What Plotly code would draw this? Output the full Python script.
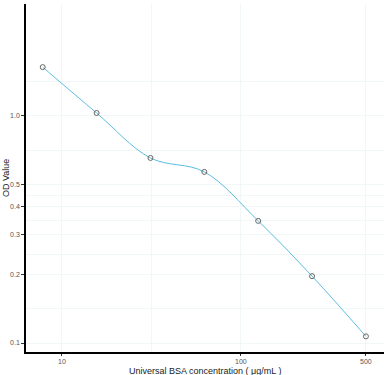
import plotly.graph_objects as go
import numpy as np

conc = [7.8125, 15.625, 31.25, 62.5, 125, 250, 500]
od = [1.64, 1.03, 0.653, 0.567, 0.345, 0.197, 0.107]

x_ticks = [10, 100, 500]
x_tick_text = ["10", "100", "500"]
y_ticks = [0.1, 0.2, 0.3, 0.4, 0.5, 1.0]
y_tick_text = ["0.1", "0.2", "0.3", "0.4", "0.5", "1.0"]

x_title = "Universal BSA concentration ( μg/mL )"
y_title = "OD Value"

fig = go.Figure()
fig.add_trace(go.Scatter(
    x=conc, y=od, mode="lines",
    line=dict(color="#5bbde0", width=1, shape="spline", smoothing=1.0),
    hoverinfo="skip", showlegend=False))
fig.add_trace(go.Scatter(
    x=conc, y=od, mode="markers",
    marker=dict(symbol="circle-open", size=5, color="#666666", line=dict(width=1)),
    showlegend=False))

grid_col = "#f1f6f6"
fig.update_layout(
    width=386, height=375,
    margin=dict(l=26, r=2, t=4, b=23),
    paper_bgcolor="white", plot_bgcolor="white",
    font=dict(family="Liberation Sans, Arial, sans-serif", color="#4d4d4d", size=7),
    xaxis=dict(
        type="log", range=[np.log10(6.3), np.log10(631)],
        tickvals=x_ticks, ticktext=x_tick_text,
        ticks="outside", ticklen=2, tickcolor="#333333", tickwidth=1,
        showline=True, linecolor="black", linewidth=1.6,
        showgrid=True, gridcolor=grid_col, gridwidth=1,
        minor=dict(tickvals=[31.6], showgrid=True, gridcolor=grid_col, ticks=""),
        zeroline=False, automargin=False,
        tickfont=dict(size=7, color="#555555"),
    ),
    yaxis=dict(
        type="log", range=[np.log10(0.0913), np.log10(3.11)],
        tickvals=y_ticks, ticktext=y_tick_text,
        ticks="outside", ticklen=3, tickcolor="#333333", tickwidth=1,
        showline=True, linecolor="black", linewidth=1.6,
        showgrid=True, gridcolor=grid_col, gridwidth=1,
        minor=dict(tickvals=[0.1414, 0.245, 0.3464, 0.4472, 0.7071, 1.414], showgrid=True, gridcolor=grid_col, ticks=""),
        zeroline=False, automargin=False,
        tickfont=dict(size=7, color="#555555"),
    ),
    annotations=[
        dict(text=x_title, xref="paper", yref="paper", x=0.5, y=0, yshift=-12,
             xanchor="center", yanchor="top", showarrow=False,
             font=dict(size=9, color="#222222")),
        dict(text=y_title, xref="paper", yref="paper", x=0, y=0.5, xshift=-13,
             xanchor="right", yanchor="middle", textangle=-90, showarrow=False,
             font=dict(size=9, color="#222222")),
    ],
)
fig.write_html("out.html", config={"displayModeBar": False},
               post_script="document.body.style.margin='0';document.body.style.overflow='hidden';")
